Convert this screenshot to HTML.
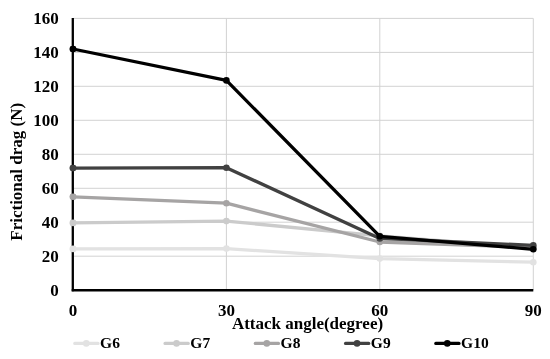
<!DOCTYPE html>
<html><head><meta charset="utf-8"><title>chart</title>
<style>
html,body{margin:0;padding:0;background:#fff;}
body{width:550px;height:359px;overflow:hidden;}
svg{display:block;}
text{font-family:"Liberation Serif","Times New Roman",serif;font-weight:bold;fill:#000;}
</style></head><body>
<svg width="550" height="359" viewBox="0 0 550 359">
<rect width="550" height="359" fill="#fff"/>

<line x1="73.0" y1="256.2" x2="533.26" y2="256.2" stroke="#d2d2d2" stroke-width="1"/>
<line x1="73.0" y1="222.2" x2="533.26" y2="222.2" stroke="#d2d2d2" stroke-width="1"/>
<line x1="73.0" y1="188.3" x2="533.26" y2="188.3" stroke="#d2d2d2" stroke-width="1"/>
<line x1="73.0" y1="154.3" x2="533.26" y2="154.3" stroke="#d2d2d2" stroke-width="1"/>
<line x1="73.0" y1="120.3" x2="533.26" y2="120.3" stroke="#d2d2d2" stroke-width="1"/>
<line x1="73.0" y1="86.3" x2="533.26" y2="86.3" stroke="#d2d2d2" stroke-width="1"/>
<line x1="73.0" y1="52.4" x2="533.26" y2="52.4" stroke="#d2d2d2" stroke-width="1"/>
<line x1="73.0" y1="18.4" x2="533.26" y2="18.4" stroke="#d2d2d2" stroke-width="1"/>
<line x1="226.4" y1="18.4" x2="226.4" y2="290.2" stroke="#d2d2d2" stroke-width="1"/>
<line x1="379.8" y1="18.4" x2="379.8" y2="290.2" stroke="#d2d2d2" stroke-width="1"/>
<line x1="533.3" y1="18.4" x2="533.3" y2="290.2" stroke="#d2d2d2" stroke-width="1"/>
<polyline points="73.0,248.9 226.4,248.6 379.8,258.6 533.3,262.2" fill="none" stroke="#e2e2e2" stroke-width="3.3" stroke-linejoin="round" stroke-linecap="round"/>
<circle cx="73.0" cy="248.9" r="3.3" fill="#e2e2e2"/>
<circle cx="226.4" cy="248.6" r="3.3" fill="#e2e2e2"/>
<circle cx="379.8" cy="258.6" r="3.3" fill="#e2e2e2"/>
<circle cx="533.3" cy="262.2" r="3.3" fill="#e2e2e2"/>
<polyline points="73.0,222.9 226.4,221.1 379.8,235.8 533.3,248.1" fill="none" stroke="#cbcbcb" stroke-width="3.3" stroke-linejoin="round" stroke-linecap="round"/>
<circle cx="73.0" cy="222.9" r="3.3" fill="#cbcbcb"/>
<circle cx="226.4" cy="221.1" r="3.3" fill="#cbcbcb"/>
<circle cx="379.8" cy="235.8" r="3.3" fill="#cbcbcb"/>
<circle cx="533.3" cy="248.1" r="3.3" fill="#cbcbcb"/>
<polyline points="73.0,196.8 226.4,203.2 379.8,242.0 533.3,247.4" fill="none" stroke="#a6a4a4" stroke-width="3.3" stroke-linejoin="round" stroke-linecap="round"/>
<circle cx="73.0" cy="196.8" r="3.3" fill="#a6a4a4"/>
<circle cx="226.4" cy="203.2" r="3.3" fill="#a6a4a4"/>
<circle cx="379.8" cy="242.0" r="3.3" fill="#a6a4a4"/>
<circle cx="533.3" cy="247.4" r="3.3" fill="#a6a4a4"/>
<polyline points="73.0,168.1 226.4,167.7 379.8,238.4 533.3,245.4" fill="none" stroke="#414141" stroke-width="3.3" stroke-linejoin="round" stroke-linecap="round"/>
<circle cx="73.0" cy="168.1" r="3.3" fill="#414141"/>
<circle cx="226.4" cy="167.7" r="3.3" fill="#414141"/>
<circle cx="379.8" cy="238.4" r="3.3" fill="#414141"/>
<circle cx="533.3" cy="245.4" r="3.3" fill="#414141"/>
<polyline points="73.0,49.0 226.4,80.4 379.8,236.3 533.3,249.3" fill="none" stroke="#000000" stroke-width="3.3" stroke-linejoin="round" stroke-linecap="round"/>
<circle cx="73.0" cy="49.0" r="3.3" fill="#000000"/>
<circle cx="226.4" cy="80.4" r="3.3" fill="#000000"/>
<circle cx="379.8" cy="236.3" r="3.3" fill="#000000"/>
<circle cx="533.3" cy="249.3" r="3.3" fill="#000000"/>
<line x1="72.8" y1="18.1" x2="72.8" y2="291.3" stroke="#000" stroke-width="2.3"/>
<line x1="71.7" y1="290.2" x2="533.3" y2="290.2" stroke="#000" stroke-width="2.4"/>
<circle cx="73.0" cy="248.9" r="3.3" fill="#e2e2e2"/>
<circle cx="73.0" cy="222.9" r="3.3" fill="#cbcbcb"/>
<circle cx="73.0" cy="196.8" r="3.3" fill="#a6a4a4"/>
<circle cx="73.0" cy="168.1" r="3.3" fill="#414141"/>
<circle cx="73.0" cy="49.0" r="3.3" fill="#000000"/>
<text x="58.7" y="295.7" font-size="17" text-anchor="end">0</text>
<text x="58.7" y="261.7" font-size="17" text-anchor="end">20</text>
<text x="58.7" y="227.8" font-size="17" text-anchor="end">40</text>
<text x="58.7" y="193.8" font-size="17" text-anchor="end">60</text>
<text x="58.7" y="159.8" font-size="17" text-anchor="end">80</text>
<text x="58.7" y="125.8" font-size="17" text-anchor="end">100</text>
<text x="58.7" y="91.8" font-size="17" text-anchor="end">120</text>
<text x="58.7" y="57.9" font-size="17" text-anchor="end">140</text>
<text x="58.7" y="23.9" font-size="17" text-anchor="end">160</text>
<text x="73.0" y="315.9" font-size="17" text-anchor="middle">0</text>
<text x="226.4" y="315.9" font-size="17" text-anchor="middle">30</text>
<text x="379.8" y="315.9" font-size="17" text-anchor="middle">60</text>
<text x="533.3" y="315.9" font-size="17" text-anchor="middle">90</text>
<text x="307.5" y="329.4" font-size="17" text-anchor="middle">Attack angle(degree)</text>
<text transform="translate(22.1,171.8) rotate(-90)" font-size="17" text-anchor="middle">Frictional drag (N)</text>
<line x1="74.75" y1="343.4" x2="98.05" y2="343.4" stroke="#e2e2e2" stroke-width="3.1" stroke-linecap="round"/>
<circle cx="86.30" cy="343.4" r="3.3" fill="#e2e2e2"/>
<text x="100.10" y="347.9" font-size="15.5">G6</text>
<line x1="165.00" y1="343.4" x2="188.30" y2="343.4" stroke="#cbcbcb" stroke-width="3.1" stroke-linecap="round"/>
<circle cx="176.55" cy="343.4" r="3.3" fill="#cbcbcb"/>
<text x="190.35" y="347.9" font-size="15.5">G7</text>
<line x1="255.25" y1="343.4" x2="278.55" y2="343.4" stroke="#a6a4a4" stroke-width="3.1" stroke-linecap="round"/>
<circle cx="266.80" cy="343.4" r="3.3" fill="#a6a4a4"/>
<text x="280.60" y="347.9" font-size="15.5">G8</text>
<line x1="345.50" y1="343.4" x2="368.80" y2="343.4" stroke="#414141" stroke-width="3.1" stroke-linecap="round"/>
<circle cx="357.05" cy="343.4" r="3.3" fill="#414141"/>
<text x="370.85" y="347.9" font-size="15.5">G9</text>
<line x1="435.75" y1="343.4" x2="459.05" y2="343.4" stroke="#000000" stroke-width="3.1" stroke-linecap="round"/>
<circle cx="447.30" cy="343.4" r="3.3" fill="#000000"/>
<text x="461.10" y="347.9" font-size="15.5">G10</text>
</svg></body></html>
